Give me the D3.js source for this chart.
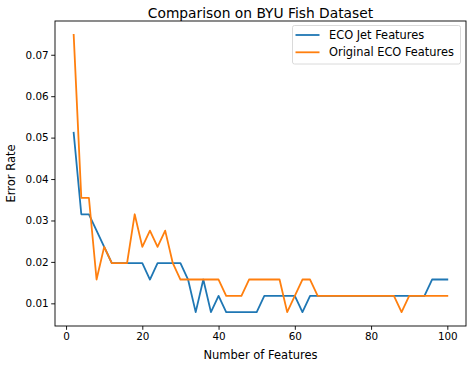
<!DOCTYPE html>
<html><head><meta charset="utf-8">
<script src="https://cdn.jsdelivr.net/npm/d3@7"></script>
<style>body{margin:0;background:#fff}svg{display:block;font-family:"DejaVu Sans",sans-serif}</style>
</head><body><svg id="c" width="474" height="367"></svg>
<script>
const featureCounts = d3.range(2, 101, 2);
const ecoJet = [13,8,8,7,6,5,5,5,5,5, 4,5,5,5,5,4,2,4,2,3, 2,2,2,2,2,3,3,3,3,3, 2,3,3,3,3,3,3,3,3,3, 3,3,3,3,3,3,3,4,4,4].map(v => v/254);
const originalEco = [19,9,9,4,6,5,5,5,8,6, 7,6,7,5,4,4,4,4,4,4, 3,3,3,4,4,4,4,4,2,3, 4,4,3,3,3,3,3,3,3,3, 3,3,3,2,3,3,3,3,3,3].map(v => v/254);
const xTicks = [0,20,40,60,80,100];
const yTicks = [0.01,0.02,0.03,0.04,0.05,0.06,0.07];
const seriesNames = ["ECO Jet Features", "Original ECO Features"];
const colors = ["#1f77b4", "#ff7f0e"];

const svg = d3.select("#c");
const L = 55, R = 466, T = 21, B = 326;
const x = d3.scaleLinear().domain([-2.9, 104.9]).range([L, R]);
const allY = ecoJet.concat(originalEco);
const ymin = d3.min(allY), ymax = d3.max(allY), pad = (ymax - ymin) * 0.05;
const y = d3.scaleLinear().domain([ymin - pad, ymax + pad]).range([B, T]);

const series = [ecoJet, originalEco];
const line = d3.line().x((d, i) => x(featureCounts[i])).y(d => y(d));
series.forEach((s, k) => {
  svg.append("path").attr("d", line(s)).attr("fill", "none")
    .attr("stroke", colors[k]).attr("stroke-width", 1.8).attr("stroke-linejoin", "round").attr("stroke-linecap", "square");
});

svg.append("rect").attr("x", L).attr("y", T).attr("width", R - L).attr("height", B - T)
  .attr("fill", "none").attr("stroke", "#000").attr("stroke-width", 0.9);

const xa = svg.append("g").attr("transform", `translate(0,${B})`)
  .call(d3.axisBottom(x).tickValues(xTicks).tickSize(3.8).tickPadding(2.5).tickFormat(d3.format("d")));
const ya = svg.append("g").attr("transform", `translate(${L},0)`)
  .call(d3.axisLeft(y).tickValues(yTicks).tickSize(3.8).tickPadding(2.5).tickFormat(d3.format(".2f")));
[xa, ya].forEach(a => {
  a.select(".domain").remove();
  a.selectAll("line").attr("stroke", "#000").attr("stroke-width", 0.9);
  a.selectAll("text").attr("font-size", 10.4).attr("fill", "#000").attr("font-family", "DejaVu Sans");
});

svg.append("text").attr("x", (L + R) / 2).attr("y", 17.5).attr("text-anchor", "middle")
  .attr("font-size", 13.8).text("Comparison on BYU Fish Dataset");
svg.append("text").attr("x", (L + R) / 2).attr("y", 359).attr("text-anchor", "middle")
  .attr("font-size", 11.5).text("Number of Features");
svg.append("text").attr("transform", `translate(15,${(T + B) / 2}) rotate(-90)`).attr("text-anchor", "middle")
  .attr("font-size", 11.5).text("Error Rate");

const lg = svg.append("g");
lg.append("rect").attr("x", 292.5).attr("y", 25.5).attr("width", 168).attr("height", 38.5).attr("rx", 2)
  .attr("fill", "#fff").attr("fill-opacity", 0.8).attr("stroke", "#d0d0d0").attr("stroke-width", 0.8);
seriesNames.forEach((n, k) => {
  const yy = 35 + k * 17.3;
  lg.append("line").attr("x1", 295.5).attr("x2", 319.5).attr("y1", yy).attr("y2", yy)
    .attr("stroke", colors[k]).attr("stroke-width", 1.8);
  lg.append("text").attr("x", 329).attr("y", yy + 4.1).attr("font-size", 11.4).text(n);
});
</script></body></html>
